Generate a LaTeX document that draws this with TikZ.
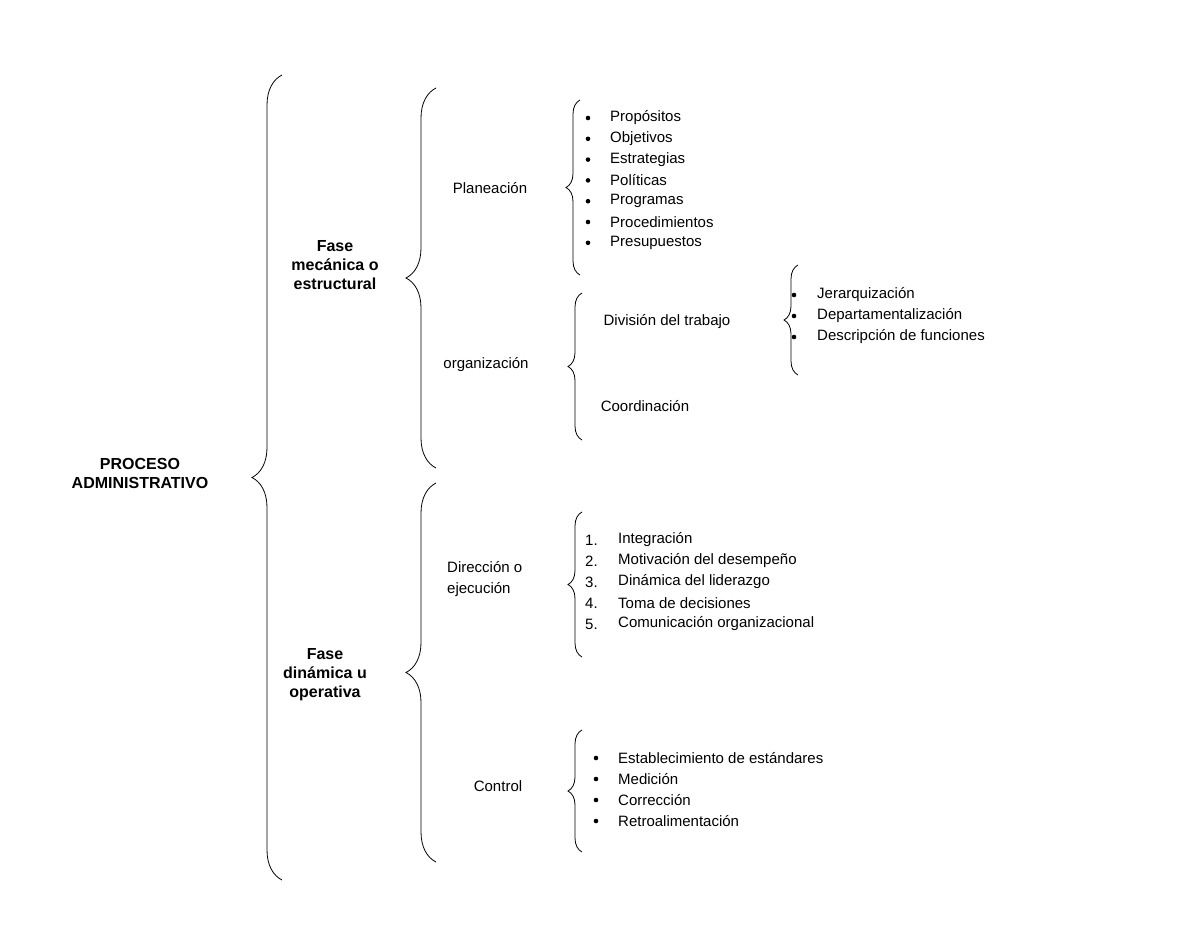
\documentclass[tikz,border=0pt]{standalone}
\usepackage{fontspec}
\setmainfont{Liberation Sans}
\usetikzlibrary{decorations.pathreplacing}
\tikzset{
    brc/.style={thick, decorate, decoration={brace, amplitude=#1}},
    lbl/.style={font=\fontsize{15}{18}\selectfont, inner sep=0pt},
    head/.style={font=\fontsize{16}{19}\selectfont\bfseries, align=center, inner sep=0pt},
}
\begin{document}
\begin{tikzpicture}[x=1pt, y=1pt]
    \useasboundingbox (0,0) rectangle (1200,-927);

    % main braces
    \draw[brc=30pt] (282,-880) -- (282,-75);
    \draw[brc=30pt] (436,-468) -- (436,-88);
    \draw[brc=30pt] (436,-862) -- (436,-483);

    \node[head] (proc) at (140,-473) {PROCESO\\ADMINISTRATIVO};
    \node[head] (mec) at (335,-265) {Fase\\mecánica o\\estructural};
    \node[head] (din) at (325,-675) {Fase\\dinámica u\\operativa};

    % second level
    \draw[brc=14pt] (580,-275) -- (580,-100);
    \draw[brc=14pt] (582,-440) -- (582,-293);
    \draw[brc=14pt] (582,-657) -- (582,-512);
    \draw[brc=14pt] (582,-852) -- (582,-730);
    \draw[brc=14pt] (798,-375) -- (798,-265);

    \node[lbl] (plan) at (490,-188) {Planeación};
    \node[lbl] (org) at (486,-365) {organización};
    \node[lbl] (div) at (667,-322) {División del trabajo};
    \node[lbl] (coord) at (645,-406) {Coordinación};
    \node[lbl, align=left, anchor=west] (dir) at (447,-579) {Dirección o\\[3pt]ejecución};
    \node[lbl] (ctrl) at (498,-786) {Control};

    % lists
    \foreach \t [count=\i] in {Propósitos, Objetivos, Estrategias, Políticas, Programas, Procedimientos, Presupuestos} {
        \fill (588,-118-20.8*\i+20.8) circle (2.3);
        \node[lbl, anchor=west] (pl\i) at (610,-118-20.8*\i+20.8) {\t};
    }
    \foreach \t [count=\i] in {Jerarquización, Departamentalización, Descripción de funciones} {
        \fill (794,-295-21*\i+21) circle (2.3);
        \node[lbl, anchor=west] (dv\i) at (817,-295-21*\i+21) {\t};
    }
    \foreach \t [count=\i] in {Integración, Motivación del desempeño, Dinámica del liderazgo, Toma de decisiones, Comunicación organizacional} {
        \node[lbl, anchor=west] (dn\i) at (585,-540-21*\i+21) {\i.};
        \node[lbl, anchor=west] (dr\i) at (618,-540-21*\i+21) {\t};
    }
    \foreach \t [count=\i] in {Establecimiento de estándares, Medición, Corrección, Retroalimentación} {
        \fill (596,-758-21*\i+21) circle (2.3);
        \node[lbl, anchor=west] (ct\i) at (618,-758-21*\i+21) {\t};
    }
\end{tikzpicture}
\end{document}
